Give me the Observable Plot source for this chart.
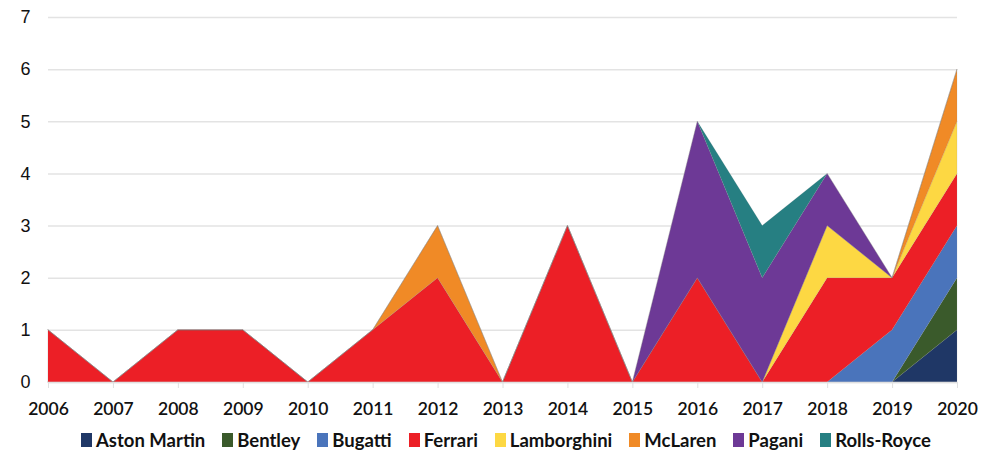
<!DOCTYPE html>
<html>
<head>
<meta charset="utf-8">
<script src="https://cdn.jsdelivr.net/npm/d3@7"></script>
<script src="https://cdn.jsdelivr.net/npm/@observablehq/plot@0.6"></script>
<style>
  html, body { margin: 0; padding: 0; background: #fff; }
  #chart { width: 1000px; }
  .legend { display: flex; justify-content: center; gap: 17px; font-family: Lato, "Open Sans", sans-serif; font-weight: 700; font-size: 18.5px; color: #111; margin-top: 7px; padding-left: 12px; }
  .legend .item { display: flex; align-items: center; gap: 4px; }
  .legend .sw { width: 11px; height: 14px; display: inline-block; }
</style>
</head>
<body>
<div id="chart"></div>
<script>
const years = [2006,2007,2008,2009,2010,2011,2012,2013,2014,2015,2016,2017,2018,2019,2020];
const brands = ["Aston Martin","Bentley","Bugatti","Ferrari","Lamborghini","McLaren","Pagani","Rolls-Royce"];
const colors = ["#1f3766","#3a5a2b","#4a74bb","#ec1f26","#fdd843","#f08a26","#6d3996","#267f82"];
const astonMartin = [0,0,0,0,0,0,0,0,0,0,0,0,0,0,1];
const bentley     = [0,0,0,0,0,0,0,0,0,0,0,0,0,0,1];
const bugatti     = [0,0,0,0,0,0,0,0,0,0,0,0,0,1,1];
const ferrari     = [1,0,1,1,0,1,2,0,3,0,2,0,2,1,1];
const lamborghini = [0,0,0,0,0,0,0,0,0,0,0,0,1,0,1];
const mclaren     = [0,0,0,0,0,0,1,0,0,0,0,0,0,0,1];
const pagani      = [0,0,0,0,0,0,0,0,0,0,3,2,1,0,0];
const rollsRoyce  = [0,0,0,0,0,0,0,0,0,0,0,1,0,0,0];
const yTicks = [0,1,2,3,4,5,6,7];

const series = [astonMartin,bentley,bugatti,ferrari,lamborghini,mclaren,pagani,rollsRoyce];
const data = [];
years.forEach((y, i) => {
  brands.forEach((b, j) => data.push({year: y, brand: b, value: series[j][i]}));
});

const plot = Plot.plot({
  width: 1000,
  height: 422,
  marginLeft: 48,
  marginRight: 43,
  marginTop: 17,
  marginBottom: 40,
  x: {domain: [2006, 2020], ticks: years, tickFormat: "d", label: null, tickSize: 5},
  y: {domain: [0, 7], ticks: yTicks, tickFormat: "d", label: null, tickSize: 0},
  color: {domain: brands, range: colors},
  style: {fontSize: "17px"},
  marks: [
    Plot.gridY(yTicks, {stroke: "#e3e3e3", strokeOpacity: 1, strokeWidth: 1.5}),
    Plot.areaY(data, {x: "year", y: "value", z: "brand", fill: "brand", order: brands, stroke: "#888", strokeWidth: 0.3, strokeOpacity: 0.5}),
    Plot.ruleY([0], {stroke: "#e0e0e0", strokeWidth: 1.5}),
    Plot.axisX({ticks: years, tickFormat: "d", tickSize: 6, stroke: "#e0e0e0", tickPadding: 14, fontFamily: "Lato, sans-serif", fontWeight: 600, fontSize: 17.5, fill: "#111", label: null}),
    Plot.axisY({ticks: yTicks, tickFormat: "d", tickSize: 0, tickPadding: 18, fontFamily: "Liberation Sans, Arial, sans-serif", fontSize: 18, fill: "#111", label: null})
  ]
});
document.getElementById("chart").appendChild(plot);

const legend = document.createElement("div");
legend.className = "legend";
brands.forEach((b, j) => {
  const it = document.createElement("span");
  it.className = "item";
  const sw = document.createElement("span");
  sw.className = "sw";
  sw.style.background = colors[j];
  it.appendChild(sw);
  it.appendChild(document.createTextNode(b));
  legend.appendChild(it);
});
document.getElementById("chart").appendChild(legend);
</script>
</body>
</html>
